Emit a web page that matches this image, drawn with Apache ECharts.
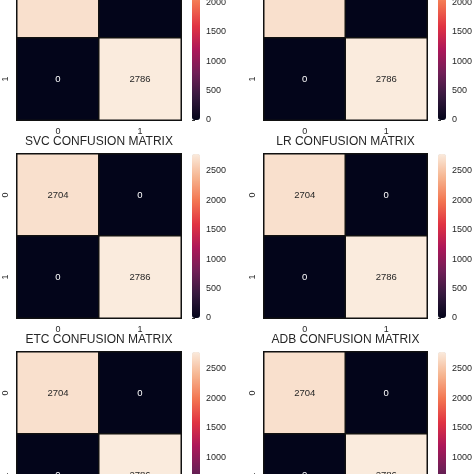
<!DOCTYPE html>
<html>
<head>
<meta charset="utf-8">
<script src="https://cdn.jsdelivr.net/npm/echarts@6/dist/echarts.min.js"></script>
<style>
  html, body { margin: 0; padding: 0; background: #fff; }
  #chart { width: 474px; height: 474px; }
</style>
</head>
<body>
<div id="chart"></div>
<script>
// Classes (axis tick labels)
const classes = ["0", "1"];

// Titles of the six panels (top row titles are cut off in the picture)
const titles = [
    "",
    "",
    "SVC CONFUSION MATRIX",
    "LR CONFUSION MATRIX",
    "ETC CONFUSION MATRIX",
    "ADB CONFUSION MATRIX"
];

// Confusion matrices, rows = true class, columns = predicted class
const matrixTopLeft = [[2704, 0], [0, 2786]];
const matrixTopRight = [[2704, 0], [0, 2786]];
const matrixSVC = [[2704, 0], [0, 2786]];
const matrixLR = [[2704, 0], [0, 2786]];
const matrixETC = [[2704, 0], [0, 2786]];
const matrixADB = [[2704, 0], [0, 2786]];
const matrices = [matrixTopLeft, matrixTopRight, matrixSVC, matrixLR, matrixETC, matrixADB];

// Colorbar
const colorMax = 2786;
const colorbarTicks = [0, 500, 1000, 1500, 2000, 2500];

// seaborn "rocket" colormap
const rocket = ["#03051a", "#35193e", "#701f57", "#ad1759", "#e13342", "#f37651", "#f6b48f", "#faebdd"];

const font = "'Liberation Sans', Arial, sans-serif";
const textColor = "#262626";

// Layout of the panels
const heatLefts = [17, 264];
const heatWidths = [164, 163];
const barLefts = [192, 438];
const firstTop = -44;
const rowPitch = 198;
const heatHeight = 164;

const grid = [];
const xAxis = [];
const yAxis = [];
const series = [];
const visualMap = [];
const title = [];

matrices.forEach((matrix, i) =>
{
    const row = Math.floor(i / 2);
    const col = i % 2;
    const top = firstTop + rowPitch * row;

    // Heatmap grid
    grid.push({ left: heatLefts[col], top, width: heatWidths[col], height: heatHeight, outerBoundsMode: "none", containLabel: false });
    xAxis.push({
        gridIndex: 2 * i,
        type: "category",
        data: classes,
        axisLine: { show: false },
        axisTick: { show: false },
        splitLine: { show: false },
        axisLabel: { fontSize: 9, color: textColor, fontFamily: font, margin: 7 }
    });
    yAxis.push({
        gridIndex: 2 * i,
        type: "category",
        data: classes,
        inverse: true,
        axisLine: { show: false },
        axisTick: { show: false },
        splitLine: { show: false },
        axisLabel: { fontSize: 9, color: textColor, fontFamily: font, rotate: 90, margin: 7 }
    });

    // Colorbar axis grid
    grid.push({ left: barLefts[col], top, width: 8, height: heatHeight, outerBoundsMode: "none", containLabel: false });
    xAxis.push({ gridIndex: 2 * i + 1, type: "value", show: false });
    yAxis.push({
        gridIndex: 2 * i + 1,
        type: "value",
        min: 0,
        max: colorMax,
        position: "right",
        axisLine: { show: false },
        splitLine: { show: false },
        axisTick: { show: true, length: 3, customValues: colorbarTicks, lineStyle: { color: "#333", width: 1 } },
        axisLabel: {
            customValues: colorbarTicks,
            formatter: (v) => String(v),
            fontSize: 9,
            color: textColor,
            fontFamily: font,
            margin: 6
        }
    });

    const data = [];
    matrix.forEach((values, r) =>
    {
        values.forEach((v, c) =>
        {
            data.push({
                value: [c, r, v],
                label: { color: v > colorMax / 2 ? textColor : "#ffffff" }
            });
        });
    });

    series.push({
        type: "heatmap",
        xAxisIndex: 2 * i,
        yAxisIndex: 2 * i,
        data,
        itemStyle: { borderColor: "#111", borderWidth: 1.5 },
        label: { show: true, fontSize: 9.5, fontFamily: font },
        emphasis: { disabled: true }
    });

    visualMap.push({
        type: "continuous",
        seriesIndex: i,
        min: 0,
        max: colorMax,
        inRange: { color: rocket },
        orient: "vertical",
        left: barLefts[col],
        top,
        itemWidth: 8,
        itemHeight: heatHeight,
        padding: 0,
        calculable: false,
        hoverLink: false,
        handleSize: 0,
        indicatorSize: 0
    });

    if (titles[i])
    {
        title.push({
            text: titles[i],
            left: heatLefts[col] + heatWidths[col] / 2,
            top: top - 18,
            textAlign: "center",
            padding: 0,
            textStyle: { fontSize: 12, fontWeight: "normal", color: textColor, fontFamily: font }
        });
    }
});

const chart = echarts.init(document.getElementById("chart"));
chart.setOption({
    animation: false,
    backgroundColor: "#ffffff",
    title,
    grid,
    xAxis,
    yAxis,
    visualMap,
    series
});
</script>
</body>
</html>
